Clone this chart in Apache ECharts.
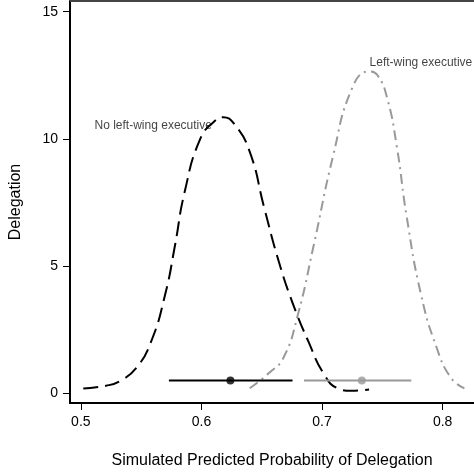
<!DOCTYPE html>
<html><head><meta charset="utf-8">
<script src="https://cdn.jsdelivr.net/npm/echarts@6/dist/echarts.min.js"></script>
<style>html,body{margin:0;padding:0;background:#fff}#c{width:474px;height:474px}</style>
</head><body><div id="c"></div>
<script>
const noLeft = [[0.502,0.19],[0.521,0.3],[0.533,0.5],[0.546,1.0],[0.558,2.0],[0.570,3.9],[0.578,5.8],[0.586,7.9],[0.599,10.0],[0.611,10.7],[0.618,10.85],[0.627,10.6],[0.640,9.5],[0.652,7.3],[0.664,5.2],[0.676,3.5],[0.689,2.0],[0.701,0.8],[0.713,0.2],[0.725,0.1],[0.739,0.15]];
const left = [[0.640,0.2],[0.656,0.8],[0.668,1.4],[0.680,3.1],[0.693,5.8],[0.709,9.3],[0.725,12.0],[0.739,12.65],[0.746,12.5],[0.754,11.6],[0.762,9.7],[0.770,7.0],[0.782,3.9],[0.795,1.8],[0.807,0.6],[0.818,0.2]];
const ciNoLeft = [0.573,0.6755]; const ptNoLeft = 0.624;
const ciLeft = [0.685,0.774]; const ptLeft = 0.733;
const ciY = 0.5;
const xTicks = [0.5,0.6,0.7,0.8];
const yTicks = [0,5,10,15];
const chart = echarts.init(document.getElementById('c'));
chart.setOption({
  animation:false,
  grid:{left:63,right:0,top:1,bottom:64},
  xAxis:{type:'value',min:0.491,max:0.826,name:'Simulated Predicted Probability of Delegation',nameLocation:'middle',nameGap:50,
    nameTextStyle:{fontSize:16,color:'#000',fontFamily:'Liberation Sans'},
    axisLine:{show:true,onZero:false,lineStyle:{color:'#000',width:2}},
    axisTick:{show:true,customValues:xTicks,length:7,lineStyle:{color:'#000'}},
    axisLabel:{customValues:xTicks,fontSize:14,color:'#000',margin:12,fontFamily:'Liberation Sans',formatter:v=>String(v)},
    splitLine:{show:false}},
  yAxis:{type:'value',min:-0.38,max:15.42,name:'Delegation',nameLocation:'middle',nameGap:46,
    nameTextStyle:{fontSize:16,color:'#000',fontFamily:'Liberation Sans'},
    axisLine:{show:true,onZero:false,lineStyle:{color:'#000',width:2}},
    axisTick:{show:true,customValues:yTicks,length:7,lineStyle:{color:'#000'}},
    axisLabel:{customValues:yTicks,fontSize:14,color:'#000',margin:12,fontFamily:'Liberation Sans'},
    splitLine:{show:false}},
  series:[
    {type:'line',data:noLeft,smooth:true,symbol:'none',lineStyle:{color:'#000',width:2,type:[15,7]}},
    {type:'line',data:left,smooth:true,symbol:'none',lineStyle:{color:'#999',width:2,type:[10,5,2,5]}},
    {type:'line',data:[[ciNoLeft[0],ciY],[ciNoLeft[1],ciY]],symbol:'none',lineStyle:{color:'#000',width:2}},
    {type:'line',data:[[ciLeft[0],ciY],[ciLeft[1],ciY]],symbol:'none',lineStyle:{color:'#999',width:2}},
    {type:'scatter',data:[[ptNoLeft,ciY]],symbolSize:8,itemStyle:{color:'#000'}},
    {type:'scatter',data:[[ptLeft,ciY]],symbolSize:8,itemStyle:{color:'#999'}},
    {type:'scatter',symbolSize:0,data:[[0.560,10.5],[0.782,13.0]],
      label:{show:true,position:'inside',color:'#111',fontSize:12,fontFamily:'Liberation Sans',
        formatter:p=>p.dataIndex===0?'No left-wing executive':'Left-wing executive'}},
    {type:'line',data:[[0.491,15.42],[0.826,15.42]],symbol:'none',clip:false,lineStyle:{color:'#444',width:2}}
  ]
});
</script></body></html>
